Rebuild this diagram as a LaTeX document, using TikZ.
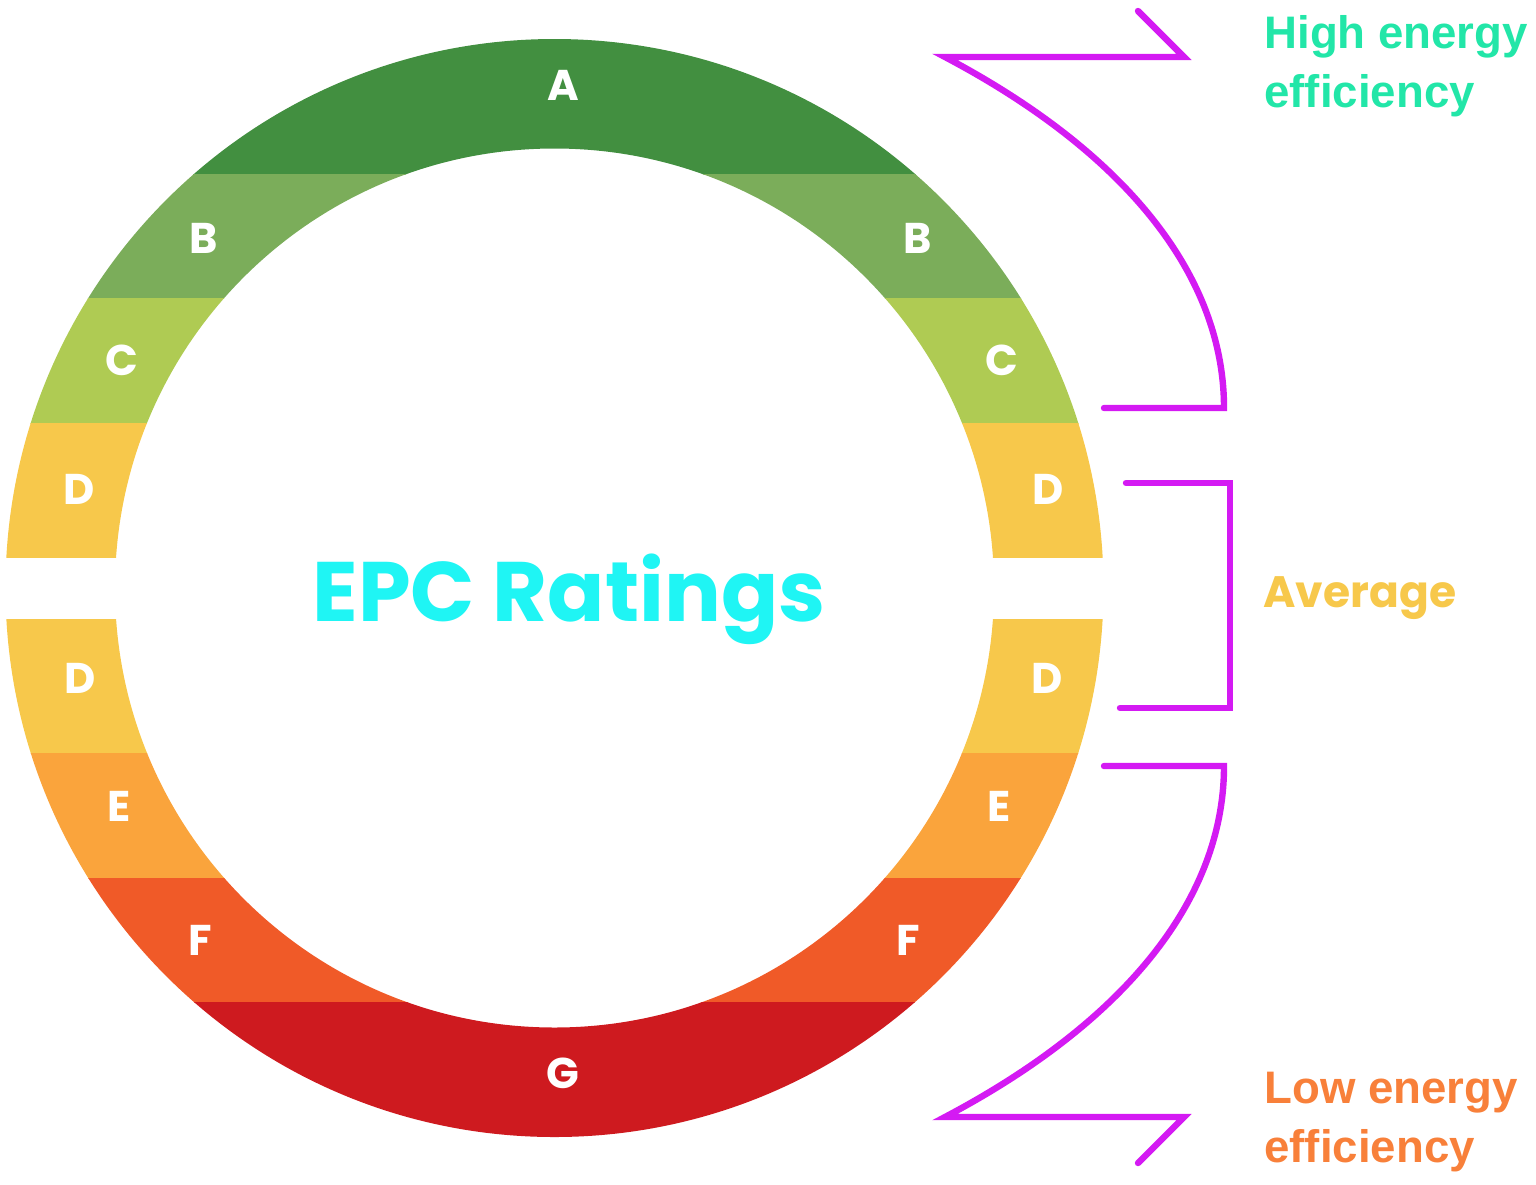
\documentclass[tikz,border=0pt]{standalone}
\usepackage{fontspec}
\setmainfont{Poppins}
\newfontfamily\arialb{Liberation Sans}
\definecolor{cA}{HTML}{428F40}
\definecolor{cB}{HTML}{7BAD5A}
\definecolor{cC}{HTML}{AFCB53}
\definecolor{cD}{HTML}{F7C84B}
\definecolor{cE}{HTML}{FAA43C}
\definecolor{cF}{HTML}{F05A28}
\definecolor{cG}{HTML}{CE1A1F}
\definecolor{cyanT}{HTML}{1FF5F4}
\definecolor{tealT}{HTML}{22E6A8}
\definecolor{yelT}{HTML}{F7C84B}
\definecolor{oraT}{HTML}{F8803A}
\definecolor{mag}{HTML}{D41AF3}
\begin{document}
\begin{tikzpicture}[x=0.5pt,y=-0.5pt,
  lettr/.style={text=white,font=\fontsize{21.5}{21.5}\selectfont\bfseries,inner sep=0pt,anchor=center},
  brack/.style={draw=mag,line width=3.2pt,line cap=round,line join=miter},
  sidetxt/.style={font=\arialb\fontsize{22.8}{22.8}\selectfont\bfseries,inner sep=0pt,anchor=base west}]
\useasboundingbox (0,0) rectangle (1536,1184);
\coordinate (ctr) at (554.5,588);
\foreach \ya/\yb/\col in {0/174.5/cA,174/298.5/cB,298/423.5/cC,423/557/cD,619/753.5/cD,753/878.5/cE,878/1002.5/cF,1002/1184/cG}{
  \begin{scope}
    \clip (0,\ya) rectangle (1200,\yb);
    \fill[\col,even odd rule] (ctr) circle[radius=549] (ctr) circle[radius=439.5];
  \end{scope}
}
\node[lettr] (lA) at (563,85) {A};
\node[lettr] (lBl) at (204,238) {B};
\node[lettr] (lBr) at (918,238) {B};
\node[lettr] (lCl) at (122,360) {C};
\node[lettr] (lCr) at (1002,360) {C};
\node[lettr] (lDl1) at (79,489) {D};
\node[lettr] (lDr1) at (1048,489) {D};
\node[lettr] (lDl2) at (80,678) {D};
\node[lettr] (lDr2) at (1047,678) {D};
\node[lettr] (lEl) at (119,806) {E};
\node[lettr] (lEr) at (999,806) {E};
\node[lettr] (lFl) at (200,940) {F};
\node[lettr] (lFr) at (908,940) {F};
\node[lettr] (lG) at (563,1073) {G};
\node[text=cyanT,font=\fontsize{42.2}{42.2}\selectfont\bfseries,inner sep=0pt,anchor=base west] (title) at (312,621) {EPC Ratings};
% brackets
\draw[brack] (1138,11) -- (1184,57) -- (945,57) .. controls (1125,152) and (1224,275) .. (1224,408) -- (1104,408);
\draw[brack] (1126,483) -- (1230,483) -- (1230,708) -- (1120,708);
\draw[brack] (1104,766) -- (1224,766) .. controls (1224,899) and (1125,1022) .. (945,1117) -- (1184,1117) -- (1138,1163);
% side texts
\node[sidetxt,text=tealT] (hi1) at (1264,48) {High energy};
\node[sidetxt,text=tealT] (hi2) at (1264,107) {efficiency};
\node[text=yelT,font=\fontsize{22}{22}\selectfont\bfseries,inner sep=0pt,anchor=base west] (avg) at (1263,607) {Average};
\node[sidetxt,text=oraT] (lo1) at (1264,1103) {Low energy};
\node[sidetxt,text=oraT] (lo2) at (1264,1162) {efficiency};
\end{tikzpicture}
\end{document}
